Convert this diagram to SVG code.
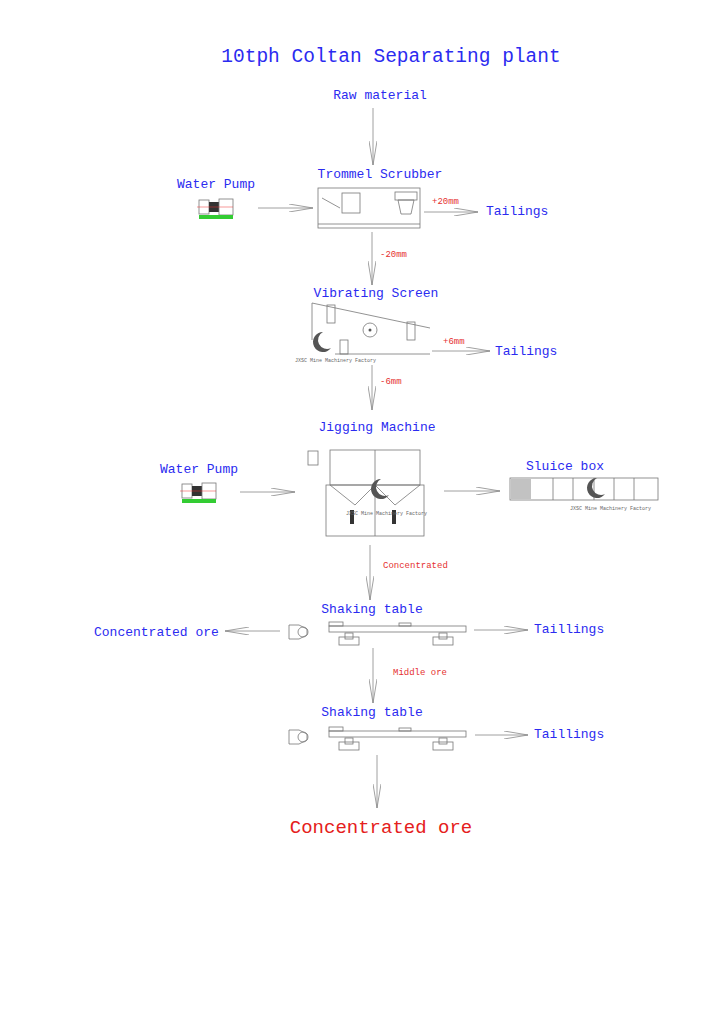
<svg xmlns="http://www.w3.org/2000/svg" width="724" height="1024" viewBox="0 0 724 1024">
<style>
text{font-family:"Liberation Mono",monospace}
.b{fill:#2b2bf0;font-size:13px}
.r{fill:#e53030;font-size:9px}
.eq{fill:none;stroke:#777;stroke-width:0.8}
.c{stroke:#888;stroke-width:0.8;fill:none;marker-end:url(#a)}
.w{fill:#666;font-size:5px}
</style>
<defs>
<marker id="a" viewBox="0 0 24 8" refX="24" refY="4" markerWidth="24" markerHeight="8" markerUnits="userSpaceOnUse" orient="auto">
<path d="M0,0 L24,4 L0,8" fill="none" stroke="#888" stroke-width="0.8"/>
</marker>
<g id="pump">
<rect x="2" y="3" width="10" height="14" class="eq"/>
<rect x="12" y="5" width="10" height="10" fill="#333"/>
<rect x="22" y="2" width="14" height="16" class="eq"/>
<line x1="0" y1="10" x2="36" y2="10" stroke="#e33" stroke-width="0.5"/>
<rect x="2" y="18" width="34" height="4" fill="#3c3"/>
</g>
<g id="table">
<path d="M0,4 h10 l8,4 v6 l-8,4 h-10 z" class="eq"/>
<circle cx="14" cy="11" r="5" class="eq"/>
<rect x="40" y="5" width="137" height="6" class="eq"/>
<rect x="40" y="1" width="14" height="4" class="eq"/>
<rect x="110" y="2" width="12" height="3" class="eq"/>
<rect x="50" y="16" width="20" height="8" class="eq"/><rect x="56" y="12" width="8" height="6" class="eq"/>
<rect x="144" y="16" width="20" height="8" class="eq"/><rect x="150" y="12" width="8" height="6" class="eq"/>
</g>
<g id="logo"><path d="M10,0 a10,10 0 1 0 8,16 a8,8 0 1 1 -8,-16z" fill="#555"/></g>
</defs>
<text x="391" y="62" text-anchor="middle" style="font-size:19.5px;fill:#2b2bf0">10tph  Coltan Separating plant</text>

<g id="connectors">
<line class="c" x1="373" y1="108" x2="373" y2="165"/>
<line class="c" x1="258" y1="208" x2="313" y2="208"/>
<line class="c" x1="424" y1="212" x2="478" y2="212"/>
<line class="c" x1="372" y1="232" x2="372" y2="285"/>
<line class="c" x1="432" y1="351" x2="490" y2="351"/>
<line class="c" x1="372" y1="365" x2="372" y2="410"/>
<line class="c" x1="240" y1="492" x2="295" y2="492"/>
<line class="c" x1="444" y1="491" x2="500" y2="491"/>
<line class="c" x1="370" y1="545" x2="370" y2="600"/>
<line class="c" x1="280" y1="631" x2="225" y2="631"/>
<line class="c" x1="474" y1="630" x2="528" y2="630"/>
<line class="c" x1="373" y1="648" x2="373" y2="703"/>
<line class="c" x1="475" y1="735" x2="528" y2="735"/>
<line class="c" x1="377" y1="755" x2="377" y2="808"/>
<text class="r" x="432" y="204">+20mm</text>
<text class="r" x="380" y="257">-20mm</text>
<text class="r" x="443" y="344">+6mm</text>
<text class="r" x="380" y="384">-6mm</text>
<text class="r" x="383" y="568">Concentrated</text>
<text class="r" x="393" y="675">Middle ore</text>
</g>

<g id="raw"><text class="b" x="380" y="99" text-anchor="middle">Raw material</text></g>

<g id="trommel">
<text class="b" x="380" y="178" text-anchor="middle">Trommel Scrubber</text>
<rect x="318" y="188" width="102" height="40" class="eq"/>
<line x1="318" y1="224" x2="420" y2="224" class="eq"/>
<rect x="342" y="193" width="18" height="20" class="eq"/>
<rect x="395" y="192" width="22" height="8" class="eq"/>
<path d="M398,200 h16 l-3,14 h-10z" class="eq"/>
<line x1="322" y1="198" x2="340" y2="208" class="eq"/>
</g>

<g id="pump1"><text class="b" x="216" y="188" text-anchor="middle">Water Pump</text><use href="#pump" x="197" y="197"/></g>

<g id="t1"><text class="b" x="486" y="215">Tailings</text></g>

<g id="screen">
<text class="b" x="376" y="297" text-anchor="middle">Vibrating Screen</text>
<path d="M312,303 L430,328 M312,303 L312,340" class="eq"/>
<rect x="327" y="305" width="8" height="18" class="eq"/>
<rect x="407" y="322" width="8" height="18" class="eq"/>
<circle cx="370" cy="330" r="7" class="eq"/>
<circle cx="370" cy="330" r="1.5" fill="#555"/>
<rect x="340" y="340" width="8" height="14" class="eq"/>
<line x1="335" y1="354" x2="430" y2="354" class="eq"/>
<use href="#logo" x="313" y="332"/>
<text class="w" x="295" y="362">JXSC Mine Machinery Factory</text>
</g>

<g id="t2"><text class="b" x="495" y="355">Tailings</text></g>

<g id="jig">
<text class="b" x="377" y="431" text-anchor="middle">Jigging Machine</text>
<rect x="308" y="451" width="10" height="14" class="eq"/>
<rect x="330" y="450" width="90" height="35" class="eq"/>
<line x1="375" y1="450" x2="375" y2="536" class="eq"/>
<rect x="326" y="485" width="98" height="51" class="eq"/>
<path d="M330,485 L355,505 L375,485 L395,505 L420,485" class="eq"/>
<rect x="350" y="510" width="4" height="14" fill="#333"/>
<rect x="392" y="510" width="4" height="14" fill="#333"/>
<use href="#logo" x="371" y="479"/>
<text class="w" x="346" y="515">JXSC Mine Machinery Factory</text>
</g>

<g id="pump2"><text class="b" x="199" y="473" text-anchor="middle">Water Pump</text><use href="#pump" x="180" y="481"/></g>

<g id="sluice">
<text class="b" x="565" y="470" text-anchor="middle">Sluice box</text>
<rect x="510" y="478" width="148" height="22" class="eq"/>
<rect x="511" y="479" width="20" height="20" fill="#999" opacity="0.6"/>
<path d="M553,478v22M573,478v22M594,478v22M614,478v22M634,478v22" class="eq"/>
<use href="#logo" x="587" y="478"/>
<text class="w" x="570" y="510">JXSC Mine Machinery Factory</text>
</g>

<g id="shake1">
<text class="b" x="372" y="613" text-anchor="middle">Shaking table</text>
<use href="#table" x="289" y="621"/>
</g>
<g id="co1"><text class="b" x="94" y="636">Concentrated ore</text></g>
<g id="t3"><text class="b" x="534" y="633">Taillings</text></g>

<g id="shake2">
<text class="b" x="372" y="716" text-anchor="middle">Shaking table</text>
<use href="#table" x="289" y="726"/>
</g>
<g id="t4"><text class="b" x="534" y="738">Taillings</text></g>

<g id="final"><text x="381" y="833" text-anchor="middle" style="font-size:19px;fill:#e52020">Concentrated ore</text></g>
</svg>
